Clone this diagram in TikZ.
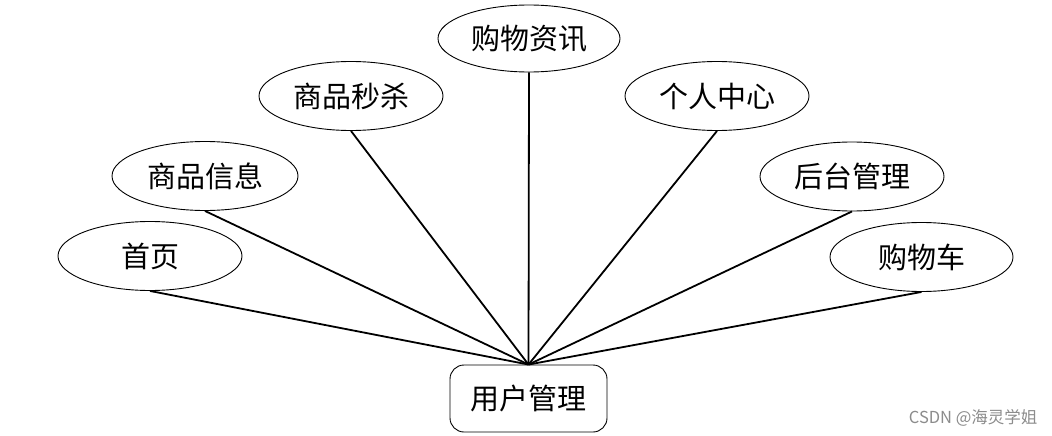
\documentclass[tikz,border=0pt]{standalone}
\usepackage{fontspec}
\setmainfont{Liberation Sans}
\newfontfamily\cjk{Noto Sans CJK SC}
\usetikzlibrary{shapes.geometric}
\begin{document}
\begin{tikzpicture}[x=1pt,y=-1pt,
  attr/.style={draw=black,line width=0.9pt,ellipse,minimum width=184pt,minimum height=69pt,inner sep=0pt,font=\cjk\fontsize{29}{31}\selectfont},
  ent/.style={draw=black,line width=0.9pt,rounded corners=14pt,minimum width=157pt,minimum height=67pt,inner sep=0pt,font=\cjk\fontsize{29}{31}\selectfont},
  conn/.style={line width=1.8pt}]
\useasboundingbox[fill=white] (0,0) rectangle (1052,436);
\node[ent] (u) at (528.5,398.5) {用户管理};
\node[attr] (a1) at (150,256) {首页};
\node[attr,minimum width=186pt] (a2) at (205,176) {商品信息};
\node[attr] (a3) at (351,96) {商品秒杀};
\node[attr,minimum width=182pt,minimum height=67pt] (a4) at (529,38.5) {购物资讯};
\node[attr] (a5) at (717,96) {个人中心};
\node[attr] (a6) at (852,176.5) {后台管理};
\node[attr,minimum width=183pt] (a7) at (921.5,257) {购物车};
\coordinate (hub) at (u.north);
\foreach \a in {a1,a2,a3,a4,a5,a6,a7}{
  \draw[conn] (\a.south) -- (hub);
}
\node[text=black!45,font=\cjk\fontsize{16.5}{18}\selectfont,anchor=east] (wm) at (1041,418) {CSDN @海灵学姐};
\end{tikzpicture}
\end{document}
